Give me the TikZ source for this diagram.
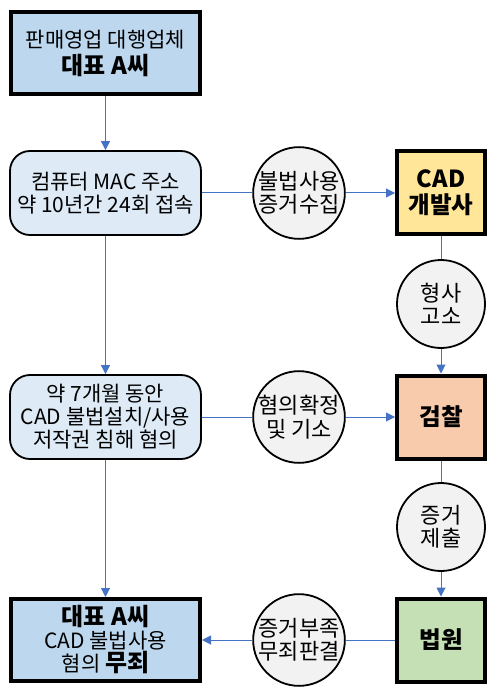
\documentclass[tikz,border=0pt]{standalone}
\usepackage{fontspec}
\setmainfont{Noto Sans CJK KR}
\usetikzlibrary{arrows.meta}
\usepackage{xcolor}
\definecolor{boxblue}{HTML}{BDD7EE}
\definecolor{boxlight}{HTML}{DEEBF7}
\definecolor{boxyellow}{HTML}{FFE699}
\definecolor{boxorange}{HTML}{F8CBAD}
\definecolor{boxgreen}{HTML}{C5E0B4}
\definecolor{circgray}{HTML}{F2F2F2}
\definecolor{linkblue}{HTML}{4472C4}

\begin{document}
\begin{tikzpicture}[x=1pt,y=-1pt,
    font=\fontsize{21}{23}\selectfont,
    party/.style={draw, rectangle, line width=4pt, align=center, minimum width=189pt, minimum height=82pt},
    agency/.style={draw, rectangle, line width=4pt, align=center, minimum width=88pt, minimum height=83pt, font=\fontsize{23.5}{26}\selectfont\bfseries},
    fact/.style={draw, rectangle, rounded corners=20pt, line width=1.8pt, fill=boxlight, align=center, minimum width=191pt, minimum height=84pt},
    stage/.style={draw, circle, line width=1.8pt, fill=circgray, align=center, minimum size=88pt, inner sep=0pt, font=\fontsize{22}{23.5}\selectfont},
    link/.style={draw=linkblue, line width=1pt},
    flow/.style={link, -{Triangle[length=9pt,width=9pt]}}]
    \useasboundingbox (0,0) rectangle (496,692);
    % left column: the accused
    \node[party, fill=boxblue] (repA) at (105.5,53) {판매영업 대행업체\\[4pt]{\fontsize{24}{27}\selectfont\bfseries 대표 A씨}};
    \node[fact] (access) at (105.5,193) {컴퓨터 MAC 주소\\약 10년간 24회 접속};
    \node[fact] (suspect) at (105.5,417) {약 7개월 동안\\CAD 불법설치/사용\\저작권 침해 혐의};
    \node[party, fill=boxblue] (acquit) at (105.5,640) {{\fontsize{24}{24}\selectfont\bfseries 대표 A씨}\\CAD 불법사용\\혐의 {\fontsize{24}{24}\selectfont\bfseries 무죄}};
    
    % right column: the other side
    \node[agency, fill=boxyellow] (dev) at (441,193) {CAD\\개발사};
    \node[agency, fill=boxorange] (pros) at (441,417) {검찰};
    \node[agency, fill=boxgreen] (court) at (441,640) {법원};
    
    % steps in between
    \node[stage] (collect) at (299,193) {불법사용\\증거수집};
    \node[stage] (charge) at (299,417) {혐의확정\\및 기소};
    \node[stage] (verdict) at (299,640) {증거부족\\무죄판결};
    \node[stage] (sue) at (441,304) {형사\\고소};
    \node[stage] (submit) at (441,527) {증거\\제출};
    
    \draw[flow] (repA) -- (access);
    \draw[flow] (access) -- (suspect);
    \draw[flow] (suspect) -- (acquit);
    
    \draw[link] (access) -- (collect);
    \draw[flow] (collect) -- (dev);
    \draw[link] (suspect) -- (charge);
    \draw[flow] (charge) -- (pros);
    \draw[link] (court) -- (verdict);
    \draw[flow] (verdict) -- (acquit);
    
    \draw[link] (dev) -- (sue);
    \draw[flow] (sue) -- (pros);
    \draw[link] (pros) -- (submit);
    \draw[flow] (submit) -- (court);
\end{tikzpicture}
\end{document}
